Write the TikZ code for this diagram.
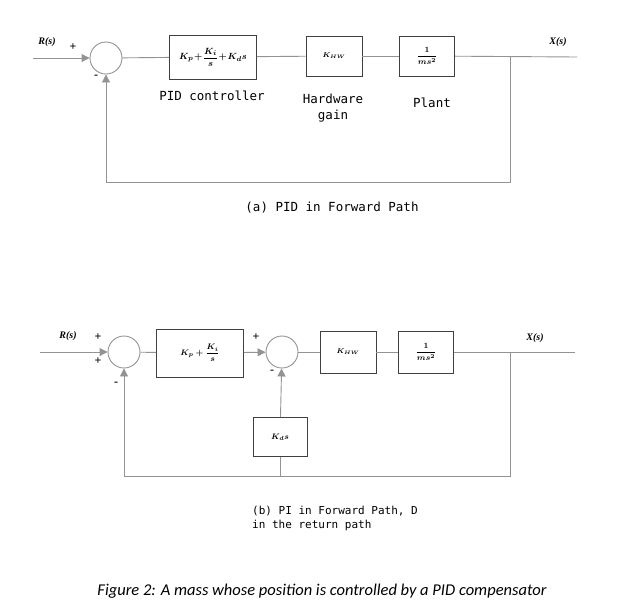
\documentclass[tikz,border=0pt]{standalone}
\usepackage{amsmath}
\usepackage{fontspec}
\setmainfont{Liberation Serif}
\newfontfamily\monof{DejaVu Sans Mono}
\newfontfamily\capf{Carlito}
\usetikzlibrary{arrows.meta}
\begin{document}
\begin{tikzpicture}[x=1pt,y=-1pt,
  ln/.style={draw=gray!85,line width=0.9pt},
  arr/.style={ln,-{Triangle[length=8pt,width=8pt,fill=gray!85]}},
  sum/.style={circle,draw=gray!85,line width=0.9pt,minimum size=32pt,inner sep=0pt},
  blk/.style={draw=black!75,line width=0.7pt,inner sep=0pt},
  sym/.style={font=\bfseries\itshape\fontsize{10}{12}\selectfont},
  sgn/.style={font=\bfseries\fontsize{12}{12}\selectfont},
  lab/.style={font=\monof\fontsize{12.5}{16}\selectfont,align=center}]
\useasboundingbox (0,0) rectangle (642,614);
% ---- (a)
\coordinate (ain) at (33,58);
\node[sum] (a1) at (106,58) {};
\node[blk,minimum width=87pt,minimum height=44pt] (apid) at (213,57) {\fontsize{9.5}{11}\selectfont$\boldsymbol{K_p\!+\!\dfrac{K_i}{s}\!+\!K_ds}$};
\node[blk,minimum width=56pt,minimum height=40pt] (ahw) at (334,56) {\scriptsize$\boldsymbol{K_{HW}}$};
\node[blk,minimum width=55pt,minimum height=40pt] (apl) at (427,56) {\footnotesize$\boldsymbol{\dfrac{1}{ms^2}}$};
\coordinate (aout) at (577,57);
\coordinate (abr) at (510,57);
\coordinate (ab1) at (510,182);
\coordinate (ab2) at (106,182);
\draw[arr] (ain) -- (a1);
\draw[ln] (a1) -- (apid);
\draw[ln] (apid) -- (ahw);
\draw[ln] (ahw) -- (apl);
\draw[ln] (apl) -- (aout);
\draw[arr] (abr) -- (ab1) -- (ab2) -- (a1);
\node[sym] at (47,42) {R(s)};
\node[sgn] at (73,47) {+};
\node[sgn] at (96,77) {-};
\node[sym] at (558,42) {X(s)};
\node[lab] at (212,96) {PID controller};
\node[lab] at (333,108) {Hardware\\gain};
\node[lab] at (432,103) {Plant};
\node[lab] at (332,208) {(a) PID in Forward Path};
% ---- (b)
\coordinate (bin) at (40,352);
\node[sum] (b1) at (124,352) {};
\node[blk,minimum width=87pt,minimum height=48pt] (bpi) at (200,353) {\footnotesize$\boldsymbol{K_p+\dfrac{K_i}{s}}$};
\node[sum] (b2) at (282,352) {};
\node[blk,minimum width=56pt,minimum height=42pt] (bhw) at (348,352) {\scriptsize$\boldsymbol{K_{HW}}$};
\node[blk,minimum width=55pt,minimum height=42pt] (bpl) at (426,352) {\footnotesize$\boldsymbol{\dfrac{1}{ms^2}}$};
\node[blk,minimum width=54pt,minimum height=39pt] (bkd) at (280,437) {\footnotesize$\boldsymbol{K_ds}$};
\coordinate (bout) at (575,352);
\coordinate (bbr) at (510,352);
\coordinate (bb1) at (510,476);
\coordinate (bb2) at (124,476);
\coordinate (bkdb) at (280,476);
\draw[arr] (bin) -- (b1);
\draw[ln] (b1) -- (bpi);
\draw[arr] (bpi) -- (b2);
\draw[ln] (b2) -- (bhw);
\draw[ln] (bhw) -- (bpl);
\draw[ln] (bpl) -- (bout);
\draw[arr] (bbr) -- (bb1) -- (bb2) -- (b1);
\draw[ln] (bkdb) -- (bkd);
\draw[arr] (bkd) -- (b2);
\node[sym] at (68,336) {R(s)};
\node[sgn] at (98,337) {+};
\node[sgn] at (98,361) {+};
\node[sgn] at (116,384) {-};
\node[sgn] at (256,337) {+};
\node[sgn] at (272,372) {-};
\node[sym] at (535,338) {X(s)};
\node[lab,align=left,font=\monof\fontsize{11}{14}\selectfont] at (335,518) {(b) PI  in Forward Path, D\\in the return path};
\node[font=\capf\itshape\fontsize{16.5}{18}\selectfont] at (322,591) {Figure 2: A mass whose position is controlled by a PID compensator};
\end{tikzpicture}
\end{document}
